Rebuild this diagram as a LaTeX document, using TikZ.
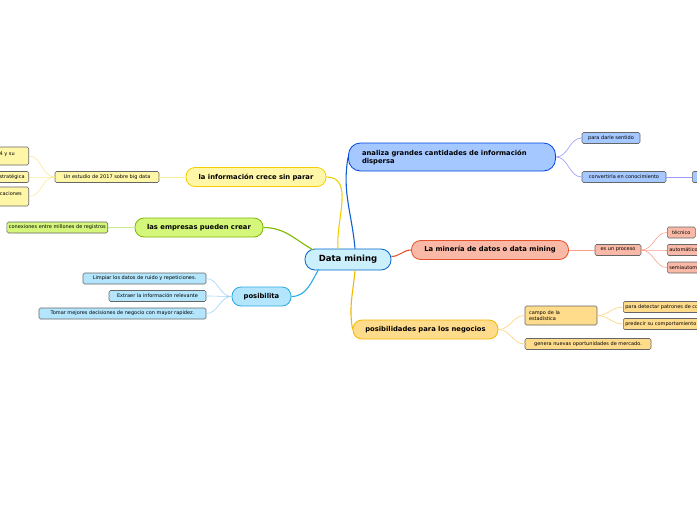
\documentclass[tikz,border=0pt]{standalone}
\usepackage{fontspec}
\setmainfont{DejaVu Sans}
\begin{document}
\begin{tikzpicture}[x=1pt,y=-1pt,
  leaf/.style={draw=gray!80!black,rounded corners=1.5pt,inner sep=2pt,font=\fontsize{5}{6}\selectfont,minimum height=11pt,line width=0.6pt,align=left},
  main/.style={rounded corners=9pt,inner sep=3pt,font=\fontsize{6.8}{8}\selectfont\bfseries,line width=0.8pt,minimum height=19pt},
  lk/.style={line width=0.6pt},
  mk/.style={line width=1.1pt}]
\useasboundingbox (0,0) rectangle (697,520);
\fill[white] (0,0) rectangle (697,520);
\begin{scope}
\clip (0,0) rectangle (697,520);
% center
\node[main,draw=blue!50!cyan!80!black,fill=cyan!20,minimum width=86pt,minimum height=21pt,rounded corners=10pt,font=\fontsize{8.5}{10}\selectfont\bfseries] (c) at (348,259.5) {Data mining};
% blue branch
\node[main,draw=blue!70!cyan!90!black,fill={rgb,255:red,164;green,200;blue,255},minimum width=207pt,minimum height=28pt,rounded corners=12pt,align=left,text width=180pt] (b) at (452,157) {analiza grandes cantidades de información\\dispersa};
\node[leaf,fill={rgb,255:red,164;green,200;blue,255},minimum width=58pt] (b1) at (611,138) {para darle sentido};
\node[leaf,fill={rgb,255:red,164;green,200;blue,255},minimum width=84pt] (b2) at (624,177) {convertirla en conocimiento};
\node[leaf,fill={rgb,255:red,164;green,200;blue,255},anchor=west,minimum width=40pt] (b3) at (692,177) {útil};
\draw[mk,draw={rgb,255:red,16;green,96;blue,208}] (c.north)++(7,0) coordinate (cb) to[out=95,in=-100] (b.west);
\draw[lk,draw=blue!40] (b.east) to[out=0,in=180] (b1.west);
\draw[lk,draw=blue!40] (b.east) to[out=0,in=180] (b2.west);
\draw[lk,draw=blue!40] (b2.east) -- (b3.west);
% salmon branch
\node[main,draw={rgb,255:red,229;green,83;blue,43},fill={rgb,255:red,249;green,185;blue,166},minimum width=157pt] (s) at (490,250) {La minería de datos o data mining};
\node[leaf,fill={rgb,255:red,249;green,185;blue,166},minimum width=46pt] (s1) at (618,250) {es un proceso};
\node[leaf,fill={rgb,255:red,249;green,185;blue,166},anchor=west,minimum width=28pt] (s2) at (667,232.5) {técnico};
\node[leaf,fill={rgb,255:red,249;green,185;blue,166},anchor=west] (s3) at (667,250) {automático};
\node[leaf,fill={rgb,255:red,249;green,185;blue,166},anchor=west] (s4) at (667,267.5) {semiautomático};
\draw[mk,draw={rgb,255:red,229;green,83;blue,43}] (c.east) ++(0,-3) to[out=0,in=180] (s.west);
\draw[lk,draw={rgb,255:red,249;green,160;blue,140}] (s.east) -- (s1.west);
\foreach \t in {s2,s3,s4}\draw[lk,draw={rgb,255:red,249;green,160;blue,140}] (s1.east) to[out=0,in=180] (\t.west);
% orange branch
\node[main,draw={rgb,255:red,245;green,184;blue,0},fill={rgb,255:red,255;green,219;blue,140},minimum width=145pt] (o) at (425.5,329.5) {posibilidades para los negocios};
\node[leaf,fill={rgb,255:red,255;green,219;blue,140},minimum width=72pt,minimum height=19pt,text width=64pt] (o1) at (561,315.5) {campo de la\\estadística};
\node[leaf,fill={rgb,255:red,255;green,219;blue,140},anchor=west] (o2) at (623,307) {para detectar patrones de comportamiento};
\node[leaf,fill={rgb,255:red,255;green,219;blue,140},anchor=west] (o3) at (623,324) {predecir su comportamiento};
\node[leaf,fill={rgb,255:red,255;green,219;blue,140},minimum width=126pt] (o4) at (588,344) {genera nuevas oportunidades de mercado.};
\draw[mk,draw={rgb,255:red,245;green,184;blue,0}] (c.south) ++(7,0) to[out=-95,in=100] (o.west);
\foreach \t in {o1,o4}\draw[lk,draw={rgb,255:red,255;green,210;blue,120}] (o.east) to[out=0,in=180] (\t.west);
\foreach \t in {o2,o3}\draw[lk,draw={rgb,255:red,255;green,210;blue,120}] (o1.east) to[out=0,in=180] (\t.west);
% yellow branch
\node[main,draw={rgb,255:red,240;green,208;blue,0},fill={rgb,255:red,255;green,246;blue,168},minimum width=140pt] (y) at (256,177) {la información crece sin parar};
\node[leaf,fill={rgb,255:red,255;green,246;blue,168},minimum width=104pt] (y1) at (107,177) {Un estudio de 2017 sobre big data};
\node[leaf,fill={rgb,255:red,255;green,246;blue,168},anchor=east,minimum height=18pt,align=right,inner xsep=14pt] (y2) at (29,156) {había crecido en 2014 y su\\ };
\node[leaf,fill={rgb,255:red,255;green,246;blue,168},anchor=east,inner xsep=4pt] (y3) at (29,177) {su importancia estratégica};
\node[leaf,fill={rgb,255:red,255;green,246;blue,168},anchor=east,minimum height=19pt,align=right,inner xsep=7pt] (y4) at (29,196.5) {en distintas aplicaciones\\ };
\draw[mk,draw={rgb,255:red,240;green,208;blue,0}] (c.north) ++(-10,0) to[out=95,in=0] (y.east);
\draw[lk,draw={rgb,255:red,250;green,235;blue,150}] (y.west) -- (y1.east);
\foreach \t in {y2,y3,y4}\draw[lk,draw={rgb,255:red,250;green,235;blue,150}] (y1.west) to[out=180,in=0] (\t.east);
% green branch
\node[main,draw={rgb,255:red,127;green,184;blue,0},fill={rgb,255:red,212;green,247;blue,123},minimum width=128pt] (g) at (199,227.5) {las empresas pueden crear};
\node[leaf,fill={rgb,255:red,212;green,247;blue,123},anchor=east] (g1) at (108,227.5) {conexiones entre millones de registros};
\draw[mk,draw={rgb,255:red,127;green,184;blue,0}] (c.north west) ++(8,1) to[out=150,in=0] (g.east);
\draw[lk,draw={rgb,255:red,200;green,235;blue,140}] (g.west) -- (g1.east);
% posibilita
\node[main,draw={rgb,255:red,42;green,169;blue,224},fill={rgb,255:red,179;green,229;blue,252},minimum width=59pt] (p) at (261.5,296.5) {posibilita};
\node[leaf,fill={rgb,255:red,179;green,229;blue,252},minimum width=123pt] (p1) at (144.5,278.5) {Limpiar los datos de ruido y repeticiones.};
\node[leaf,fill={rgb,255:red,179;green,229;blue,252},minimum width=97pt] (p2) at (157.5,296) {Extraer la información relevante};
\node[leaf,fill={rgb,255:red,179;green,229;blue,252},minimum width=167pt] (p3) at (122.5,313.5) {Tomar mejores decisiones de negocio con mayor rapidez.};
\draw[mk,draw={rgb,255:red,42;green,169;blue,224}] (c.south west) ++(14,-1) to[out=-120,in=0] (p.east);
\foreach \t in {p1,p2,p3}\draw[lk,draw={rgb,255:red,160;green,215;blue,245}] (p.west) to[out=180,in=0] (\t.east);
\end{scope}
\end{tikzpicture}
\end{document}
